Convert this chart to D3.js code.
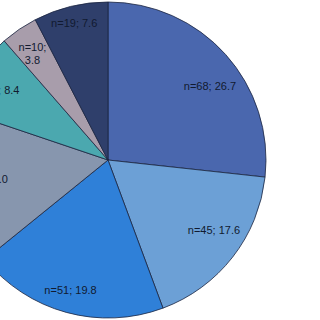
<!DOCTYPE html>
<html>
<head>
<meta charset="utf-8">
<script src="https://cdn.jsdelivr.net/npm/d3@7"></script>
<style>
  body { margin: 0; background: #fff; }
  svg { display: block; }
</style>
</head>
<body>
<div id="chart"></div>
<script>
// slices, clockwise from 12 o'clock
const counts = [68, 45, 51, 41, 21, 10, 19];
const percents = [26.7, 17.6, 19.8, 16.0, 8.4, 3.8, 7.6];
const labels = ["n=68; 26.7", "n=45; 17.6", "n=51; 19.8", "n=41; 16.0", "n=21; 8.4", ["n=10;", "3.8"], "n=19; 7.6"];
const colors = ["#4a67ae", "#6ca0d6", "#2f80d8", "#8796ae", "#4ba8af", "#a89dab", "#2f3f6b"];

const pieChart = () => {
  const width = 320;
  const height = 320;
  const radius = 158;
  const cx = 108;
  const cy = 160;

  // best-fit nudges for the labels (like the original's label placement)
  const nudge = [[2, 16], [0, -12], [-2, 1], [6, -5], [0, 5], [0, 5], [-2, -6]];

  const data = counts.map((c, i) => ({ n: c, pct: percents[i], label: labels[i], color: colors[i] }));

  const pie = d3.pie()
    .sort(null)
    .value(d => d.pct);

  const arcs = d3.arc()
    .innerRadius(0)
    .outerRadius(radius);

  const labelArc = d3.arc()
    .innerRadius(radius * 0.85)
    .outerRadius(radius * 0.85);

  let chart = d3.select("#chart")
    .append("svg")
    .attr("width", width)
    .attr("height", height);

  let g = chart.append("g")
    .attr("transform", `translate(${cx}, ${cy})`);

  g.selectAll("path")
    .data(pie(data))
    .enter().append("path")
    .attr("d", arcs)
    .attr("fill", d => d.data.color)
    .attr("stroke", "#1b2440")
    .attr("stroke-width", 0.8);

  let text = g.selectAll("text")
    .data(pie(data))
    .enter().append("text")
    .attr("transform", (d, i) => {
      const [x, y] = labelArc.centroid(d);
      return `translate(${x + nudge[i][0]}, ${y + nudge[i][1]})`;
    })
    .attr("text-anchor", "middle")
    .attr("font-family", "'Liberation Sans', Arial, sans-serif")
    .attr("font-size", 11)
    .attr("fill", "#111a30");

  text.each(function (d) {
    const lines = Array.isArray(d.data.label) ? d.data.label : [d.data.label];
    const t = d3.select(this);
    lines.forEach((l, i) => {
      t.append("tspan")
        .attr("x", 0)
        .attr("dy", i === 0 ? (0.35 - (lines.length - 1) * 0.6) + "em" : "1.2em")
        .text(l);
    });
  });
};

pieChart();
</script>
</body>
</html>
